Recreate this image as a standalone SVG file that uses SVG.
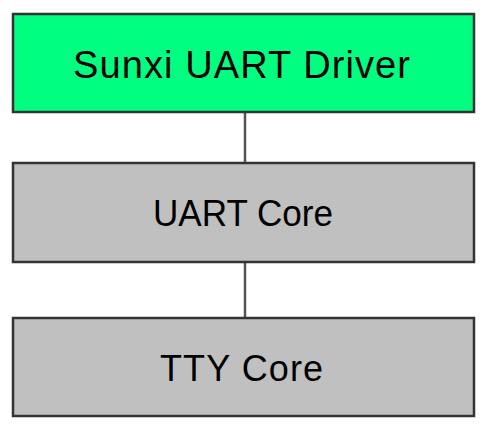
<svg xmlns="http://www.w3.org/2000/svg" width="499" height="436" viewBox="0 0 499 436">
<style>
.box{stroke:#333333;stroke-width:2.5}
.green{fill:#00ff80}
.gray{fill:#c0c0c0}
.lbl{font-family:"Liberation Sans",Arial,sans-serif;fill:#000000;text-anchor:middle}
.conn{stroke:#555555;stroke-width:2.5;fill:none}
</style>
<rect width="499" height="436" fill="#ffffff"/>
<g id="connectors">
<line class="conn" x1="245" y1="113" x2="245" y2="162"/>
<line class="conn" x1="245" y1="263" x2="245" y2="317"/>
</g>
<g id="sunxi-uart-driver">
<rect class="box green" x="13" y="14" width="461" height="98"/>
<text class="lbl" x="241.5" y="78" font-size="38" textLength="337" lengthAdjust="spacing">Sunxi UART Driver</text>
</g>
<g id="uart-core">
<rect class="box gray" x="13" y="163" width="461" height="99"/>
<text class="lbl" x="243" y="226" font-size="37" textLength="180" lengthAdjust="spacingAndGlyphs">UART Core</text>
</g>
<g id="tty-core">
<rect class="box gray" x="13" y="318" width="461" height="98"/>
<text class="lbl" x="241.5" y="381" font-size="36" textLength="163" lengthAdjust="spacing">TTY Core</text>
</g>
</svg>
